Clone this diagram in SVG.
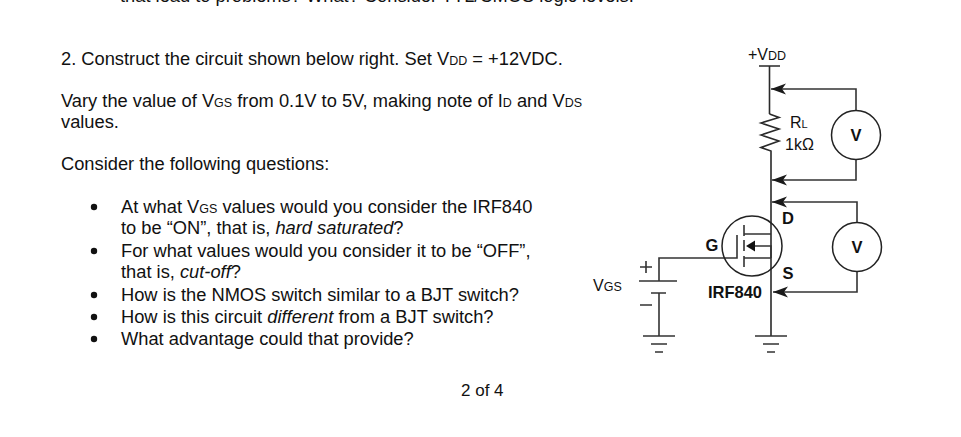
<svg xmlns="http://www.w3.org/2000/svg" width="961" height="437" viewBox="0 0 961 437">
<style>
text{font-family:"Liberation Sans",Arial,sans-serif;fill:#111}
.b{font-size:18.3px}
.s{font-size:12.5px}
.bd{font-weight:bold;font-size:16.5px}
.w{fill:none;stroke:#2a2a2a;stroke-width:1.6}
.k{fill:none;stroke:#333;stroke-width:1.6}
</style>
<defs>
<marker id="a" markerUnits="userSpaceOnUse" markerWidth="16" markerHeight="12" refX="15" refY="6" orient="auto" overflow="visible"><path d="M0 0.5L15 6L0 11.5L4 6Z" fill="#1a1a1a"/></marker>
</defs>
<rect width="961" height="437" fill="#fff"/>
<g id="text">
<text class="b" x="120" y="2">that lead to problems? What? Consider TTL/CMOS logic levels.</text>
<text class="b" x="61" y="65">2. Construct the circuit shown below right. Set V<tspan class="s">DD</tspan> = +12VDC.</text>
<text class="b" x="61" y="107">Vary the value of V<tspan class="s">GS</tspan> from 0.1V to 5V, making note of I<tspan class="s">D</tspan> and V<tspan class="s">DS</tspan></text>
<text class="b" x="61" y="128">values.</text>
<text class="b" x="61" y="170">Consider the following questions:</text>
<g fill="#111"><circle cx="94" cy="207" r="3.2"/><circle cx="94" cy="251" r="3.2"/><circle cx="94" cy="295" r="3.2"/><circle cx="94" cy="317" r="3.2"/><circle cx="94" cy="339" r="3.2"/></g>
<text class="b" x="121" y="213">At what V<tspan class="s">GS</tspan> values would you consider the IRF840</text>
<text class="b" x="121" y="234">to be “ON”, that is, <tspan font-style="italic">hard saturated</tspan>?</text>
<text class="b" x="121" y="257">For what values would you consider it to be “OFF”,</text>
<text class="b" x="121" y="278">that is, <tspan font-style="italic">cut-off</tspan>?</text>
<text class="b" x="121" y="301">How is the NMOS switch similar to a BJT switch?</text>
<text class="b" x="121" y="323">How is this circuit <tspan font-style="italic">different</tspan> from a BJT switch?</text>
<text class="b" x="121" y="345">What advantage could that provide?</text>
<text x="461" y="396" font-size="17px">2 of 4</text>
</g>
<g id="connectors">
<path class="w" d="M759 66H780M769.5 66V114"/>
<path class="w" d="M769.500 114L779 117.500L761 123L779 129L761 135L779 141L761 147.500L771 151V336"/>
<path class="k" d="M856 110V89H771" marker-end="url(#a)"/>
<path class="k" d="M856 159V180H772" marker-end="url(#a)"/>
<path class="k" d="M857 222V202H772" marker-end="url(#a)"/>
<path class="k" d="M857 271V292H773" marker-end="url(#a)"/>
<path class="k" d="M659 281V258H737V235"/>
<path class="k" d="M659 293V336"/>
</g>
<g id="vdd"><text x="767" y="60" text-anchor="middle" font-size="16">+V<tspan class="s">DD</tspan></text></g>
<g id="rl"><text x="790" y="128" font-size="16">R<tspan font-size="11">L</tspan></text><text x="785" y="150" font-size="16">1kΩ</text></g>
<g id="vm1"><circle cx="856" cy="135" r="24.500" fill="#fff" stroke="#222" stroke-width="1.500"/><text x="856" y="141" text-anchor="middle" class="bd">V</text></g>
<g id="vm2"><circle cx="857" cy="247" r="24.500" fill="#fff" stroke="#222" stroke-width="1.500"/><text x="857" y="253" text-anchor="middle" class="bd">V</text></g>
<g id="mosfet">
<circle cx="752" cy="246" r="30" fill="none" stroke="#222" stroke-width="1.500"/>
<path class="k" d="M744 225V236M744 240V251M744 256V267M744 234H771M744 258H771M771 258V246H754"/>
<path d="M746 246L755 240.500V251.500Z" fill="#111"/>
<text x="788" y="224" text-anchor="middle" class="bd">D</text>
<text x="712" y="251" text-anchor="middle" class="bd">G</text>
<text x="788" y="279" text-anchor="middle" class="bd">S</text>
<text x="735" y="298" text-anchor="middle" class="bd">IRF840</text>
</g>
<g id="battery">
<path class="k" d="M639 281H677M651 293H666M640 267H652M646 261V273M640 305H652"/>
<text x="593" y="291" font-size="16">V<tspan class="s">GS</tspan></text>
</g>
<g id="gnd1"><path class="k" d="M643 336H675M651 344H667M655 352H663"/></g>
<g id="gnd2"><path class="k" d="M755 336H787M763 344H779M767 352H775"/></g>
</svg>
